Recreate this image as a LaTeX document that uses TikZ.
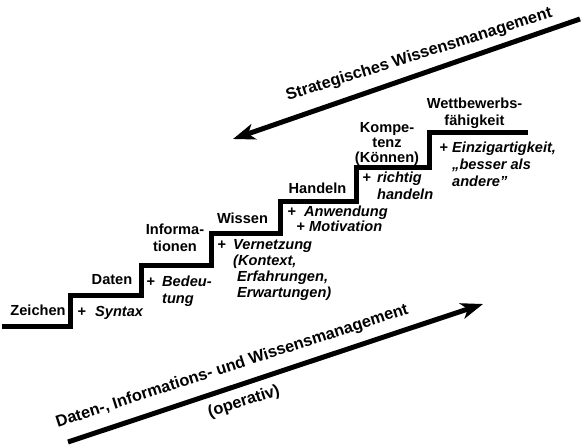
\documentclass[tikz,border=0pt]{standalone}
\usepackage{fontspec}
\setmainfont{Liberation Sans}
\usetikzlibrary{arrows.meta}
\newcommand{\mylines}[2]{\begin{tabular}[t]{@{}#1@{}}#2\end{tabular}}
\begin{document}
\begin{tikzpicture}[x=1pt,y=-1pt,
  lbl/.style={font=\fontsize{14.6}{17}\selectfont\bfseries, inner sep=0pt, anchor=base},
  itl/.style={font=\fontsize{14.6}{17}\selectfont\bfseries\itshape, inner sep=0pt, anchor=base west},
  plus/.style={font=\fontsize{14.6}{17}\selectfont\bfseries, inner sep=0pt, anchor=base west},
  stair/.style={line width=5pt, line join=miter, line cap=butt},
  bigarrow/.style={line width=5pt, -{Stealth[length=22pt,width=16pt,inset=6pt]}},
  arrtext/.style={font=\fontsize{16.3}{19}\selectfont\bfseries, inner sep=0pt}]
\useasboundingbox (0,0) rectangle (583,446);

% staircase
\draw[stair] (2,326) -- (70,326) -- (70,295) -- (141,295) -- (141,265) -- (211,265)
  -- (211,234) -- (280,234) -- (280,202) -- (356,202) -- (356,168) -- (429,168)
  -- (429,133) -- (528,133);

% step labels
\node[lbl] (zeichen) at (38,315) {Zeichen};
\node[plus] (p1) at (77.4,316) {+};
\node[itl] (syntax) at (95,316) {Syntax};

\node[lbl] (daten) at (112,284) {Daten};
\node[plus] (p2) at (146.4,286) {+};
\node[itl] (bedeutung) at (162,286) {\mylines{l}{Bedeu-\\tung}};

\node[lbl] (info) at (175,235) {\mylines{c}{Informa-\\tionen}};
\node[plus] (p3) at (217.4,250) {+};
\node[itl] (vernetzung) at (233,250) {\fontsize{14.6}{15.7}\selectfont\mylines{l}{Vernetzung\\(Kontext,\\\hspace*{4pt}Erfahrungen,\\\hspace*{4pt}Erwartungen)}};

\node[lbl] (wissen) at (242.5,224) {Wissen};
\node[plus] (p4) at (287.4,217) {+};
\node[itl] (anwendung) at (304,217) {Anwendung};
\node[plus] (motivation) at (296.4,232) {+ \textit{Motivation}};

\node[lbl] (handeln) at (317.5,194) {Handeln};
\node[plus] (p5) at (362.4,183) {+};
\node[itl] (richtig) at (377,183) {\fontsize{14.6}{16.6}\selectfont\mylines{l}{richtig\\handeln}};

\node[lbl] (kompetenz) at (387,133) {\fontsize{14.6}{14.3}\selectfont\mylines{c}{Kompe-\\tenz\\(Können)}};
\node[lbl] (wettbewerb) at (474.5,109) {\mylines{c}{Wettbewerbs-\\fähigkeit}};
\node[plus] (p6) at (439.4,153) {+};
\node[itl] (einzig) at (452,153) {\mylines{l}{Einzigartigkeit,\\„besser als\\andere”}};

% arrows
\coordinate (ta) at (580,19);
\coordinate (tb) at (233,139);
\draw[bigarrow] (ta) -- (tb);
\node[arrtext, anchor=base, rotate=17.5] (strat) at (420.5,59) {Strategisches Wissensmanagement};

\coordinate (ba) at (68,442);
\coordinate (bb) at (483,304);
\draw[bigarrow] (ba) -- (bb);
\node[arrtext, anchor=base, rotate=18] (oper) at (233.5,370.5) {Daten-, Informations- und Wissensmanagement};
\node[arrtext, rotate=18] (operativ) at (244,402) {(operativ)};
\end{tikzpicture}
\end{document}
